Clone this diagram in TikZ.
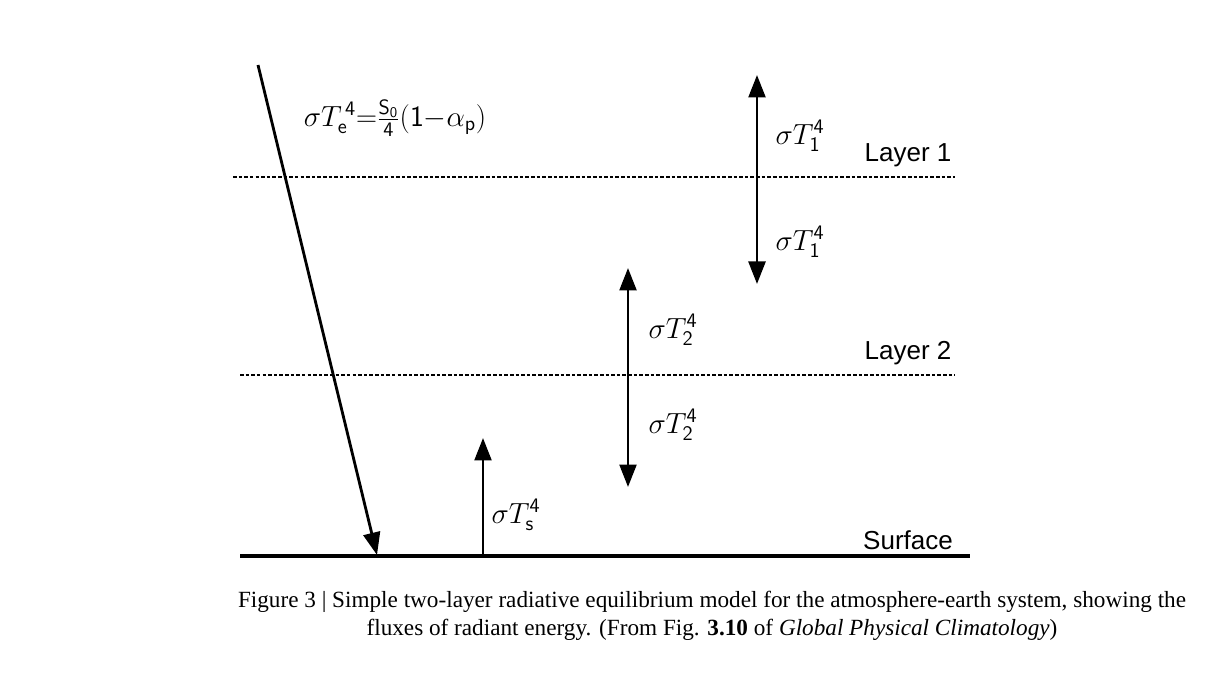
\documentclass[tikz,border=0pt]{standalone}
\usepackage{fontspec}
\setmainfont{Liberation Serif}
\newfontfamily\lab{Liberation Sans}
\usetikzlibrary{arrows.meta}
\begin{document}
\begin{tikzpicture}[x=0.025cm,y=-0.025cm,
  lbl/.style={font=\lab\fontsize{18.5}{21}\selectfont,inner sep=0},
  mth/.style={font=\fontsize{21}{24}\selectfont,inner sep=0},
  dotline/.style={line width=2pt,dash pattern=on 2.5pt off 1.5pt},
  arr/.style={line width=2pt,-{Triangle[length=16pt,width=12pt]}},
  darr/.style={line width=2pt,{Triangle[length=16pt,width=12pt]}-{Triangle[length=16pt,width=12pt]}}]
\useasboundingbox (0,0) rectangle (1222,674);
\coordinate (l1a) at (233,177); \coordinate (l1b) at (955,177);
\coordinate (l2a) at (240,375); \coordinate (l2b) at (955,375);
\coordinate (sa) at (240,556); \coordinate (sb) at (970,556);
\draw[dotline] (l1a) -- (l1b);
\draw[dotline] (l2a) -- (l2b);
\draw[line width=2.2pt] (sa) -- (sb);
\coordinate (d0) at (258,65); \coordinate (d1) at (377,555);
\draw[arr] (d0) -- (d1);
\coordinate (a1t) at (757,75); \coordinate (a1b) at (757,284);
\draw[darr] (a1t) -- (a1b);
\coordinate (a2t) at (628,268); \coordinate (a2b) at (628,487);
\draw[darr] (a2t) -- (a2b);
\coordinate (a3t) at (483,438); \coordinate (a3b) at (483,556);
\draw[arr] (a3b) -- (a3t);
\node[mth] (eq) at (395,118) {$\sigma T_{\mathsf e}^{\,\mathsf 4}{=}\frac{\mathsf{S_0}}{\mathsf 4}(\mathsf{1}{-}\alpha_{\mathsf p})$};
\node[mth] (t1a) at (800,136) {$\sigma T_{\mathsf 1}^{\mathsf 4}$};
\node[mth] (t1b) at (800,242) {$\sigma T_{\mathsf 1}^{\mathsf 4}$};
\node[mth] (t2a) at (673,330) {$\sigma T_{\mathsf 2}^{\mathsf 4}$};
\node[mth] (t2b) at (673,425) {$\sigma T_{\mathsf 2}^{\mathsf 4}$};
\node[mth] (ts) at (516,515) {$\sigma T_{\mathsf s}^{\mathsf 4}$};
\node[lbl] (L1) at (908,155) {Layer 1};
\node[lbl] (L2) at (908,353) {Layer 2};
\node[lbl] (S) at (908,540) {Surface};
\node[font=\fontsize{16.5}{20}\selectfont,align=center,inner sep=0] (cap) at (712,616) {Figure 3 | Simple two-layer radiative equilibrium model for the atmosphere-earth system, showing the\\fluxes of radiant energy. (From Fig. \textbf{3.10} of \textit{Global Physical Climatology})};
\end{tikzpicture}
\end{document}
